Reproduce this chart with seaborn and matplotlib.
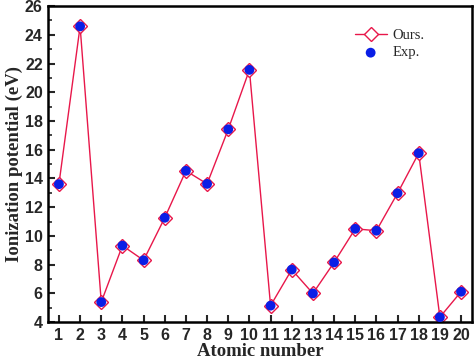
import pandas as pd
import matplotlib.pyplot as plt
import seaborn as sns
from matplotlib.ticker import MultipleLocator

atomic_number = list(range(1, 21))
ours = [13.60, 24.59, 5.39, 9.32, 8.30, 11.26, 14.53, 13.62, 17.42, 21.56,
        5.14, 7.65, 5.99, 8.15, 10.49, 10.36, 12.97, 15.76, 4.34, 6.11]
exp = [13.60, 24.59, 5.39, 9.32, 8.30, 11.26, 14.53, 13.62, 17.42, 21.56,
       5.14, 7.65, 5.99, 8.15, 10.49, 10.36, 12.97, 15.76, 4.34, 6.11]

df = pd.DataFrame({"Z": atomic_number, "Ours.": ours, "Exp.": exp})

sns.set_theme(style="white")
fig, ax = plt.subplots(figsize=(4.74, 3.59), dpi=100)
fig.subplots_adjust(left=0.102, right=0.995, top=0.983, bottom=0.103)

sns.lineplot(data=df, x="Z", y="Ours.", ax=ax, color="#e8174a", linewidth=1.0,
             marker="D", markersize=7, markerfacecolor="white",
             markeredgecolor="#e8174a", markeredgewidth=1.0, label="Ours.")
sns.scatterplot(data=df, x="Z", y="Exp.", ax=ax, color="#0a1ee6", s=50,
                edgecolor="none", label="Exp.", zorder=5)

ax.set_xlim(0.5, 20.5)
ax.set_ylim(4, 26)
ax.set_xticks(atomic_number)
ax.yaxis.set_major_locator(MultipleLocator(2))
ax.yaxis.set_minor_locator(MultipleLocator(1))
ax.tick_params(axis="both", which="major", direction="in", length=5, width=1.5,
               labelsize=11.5, bottom=True, left=True, top=False, right=False, pad=4)
ax.tick_params(axis="y", which="minor", direction="in", length=3, width=1.2, left=True)
for lbl in ax.get_xticklabels() + ax.get_yticklabels():
    lbl.set_fontfamily("Liberation Sans")
    lbl.set_fontweight("bold")
for s in ax.spines.values():
    s.set_linewidth(1.8)
    s.set_color("black")

ax.set_xlabel("Atomic number", fontfamily="Liberation Serif", fontweight="bold",
              fontsize=13.5, labelpad=0)
ax.set_ylabel("Ionization potential (eV)", fontfamily="Liberation Serif",
              fontweight="bold", fontsize=13.5, labelpad=1)

leg = ax.legend(loc="upper right", bbox_to_anchor=(0.92, 0.97), frameon=False,
                prop={"family": "Liberation Serif", "size": 10.5},
                handlelength=2.2, handletextpad=0.4, labelspacing=0.3)

fig.savefig("out.png", dpi=100)
